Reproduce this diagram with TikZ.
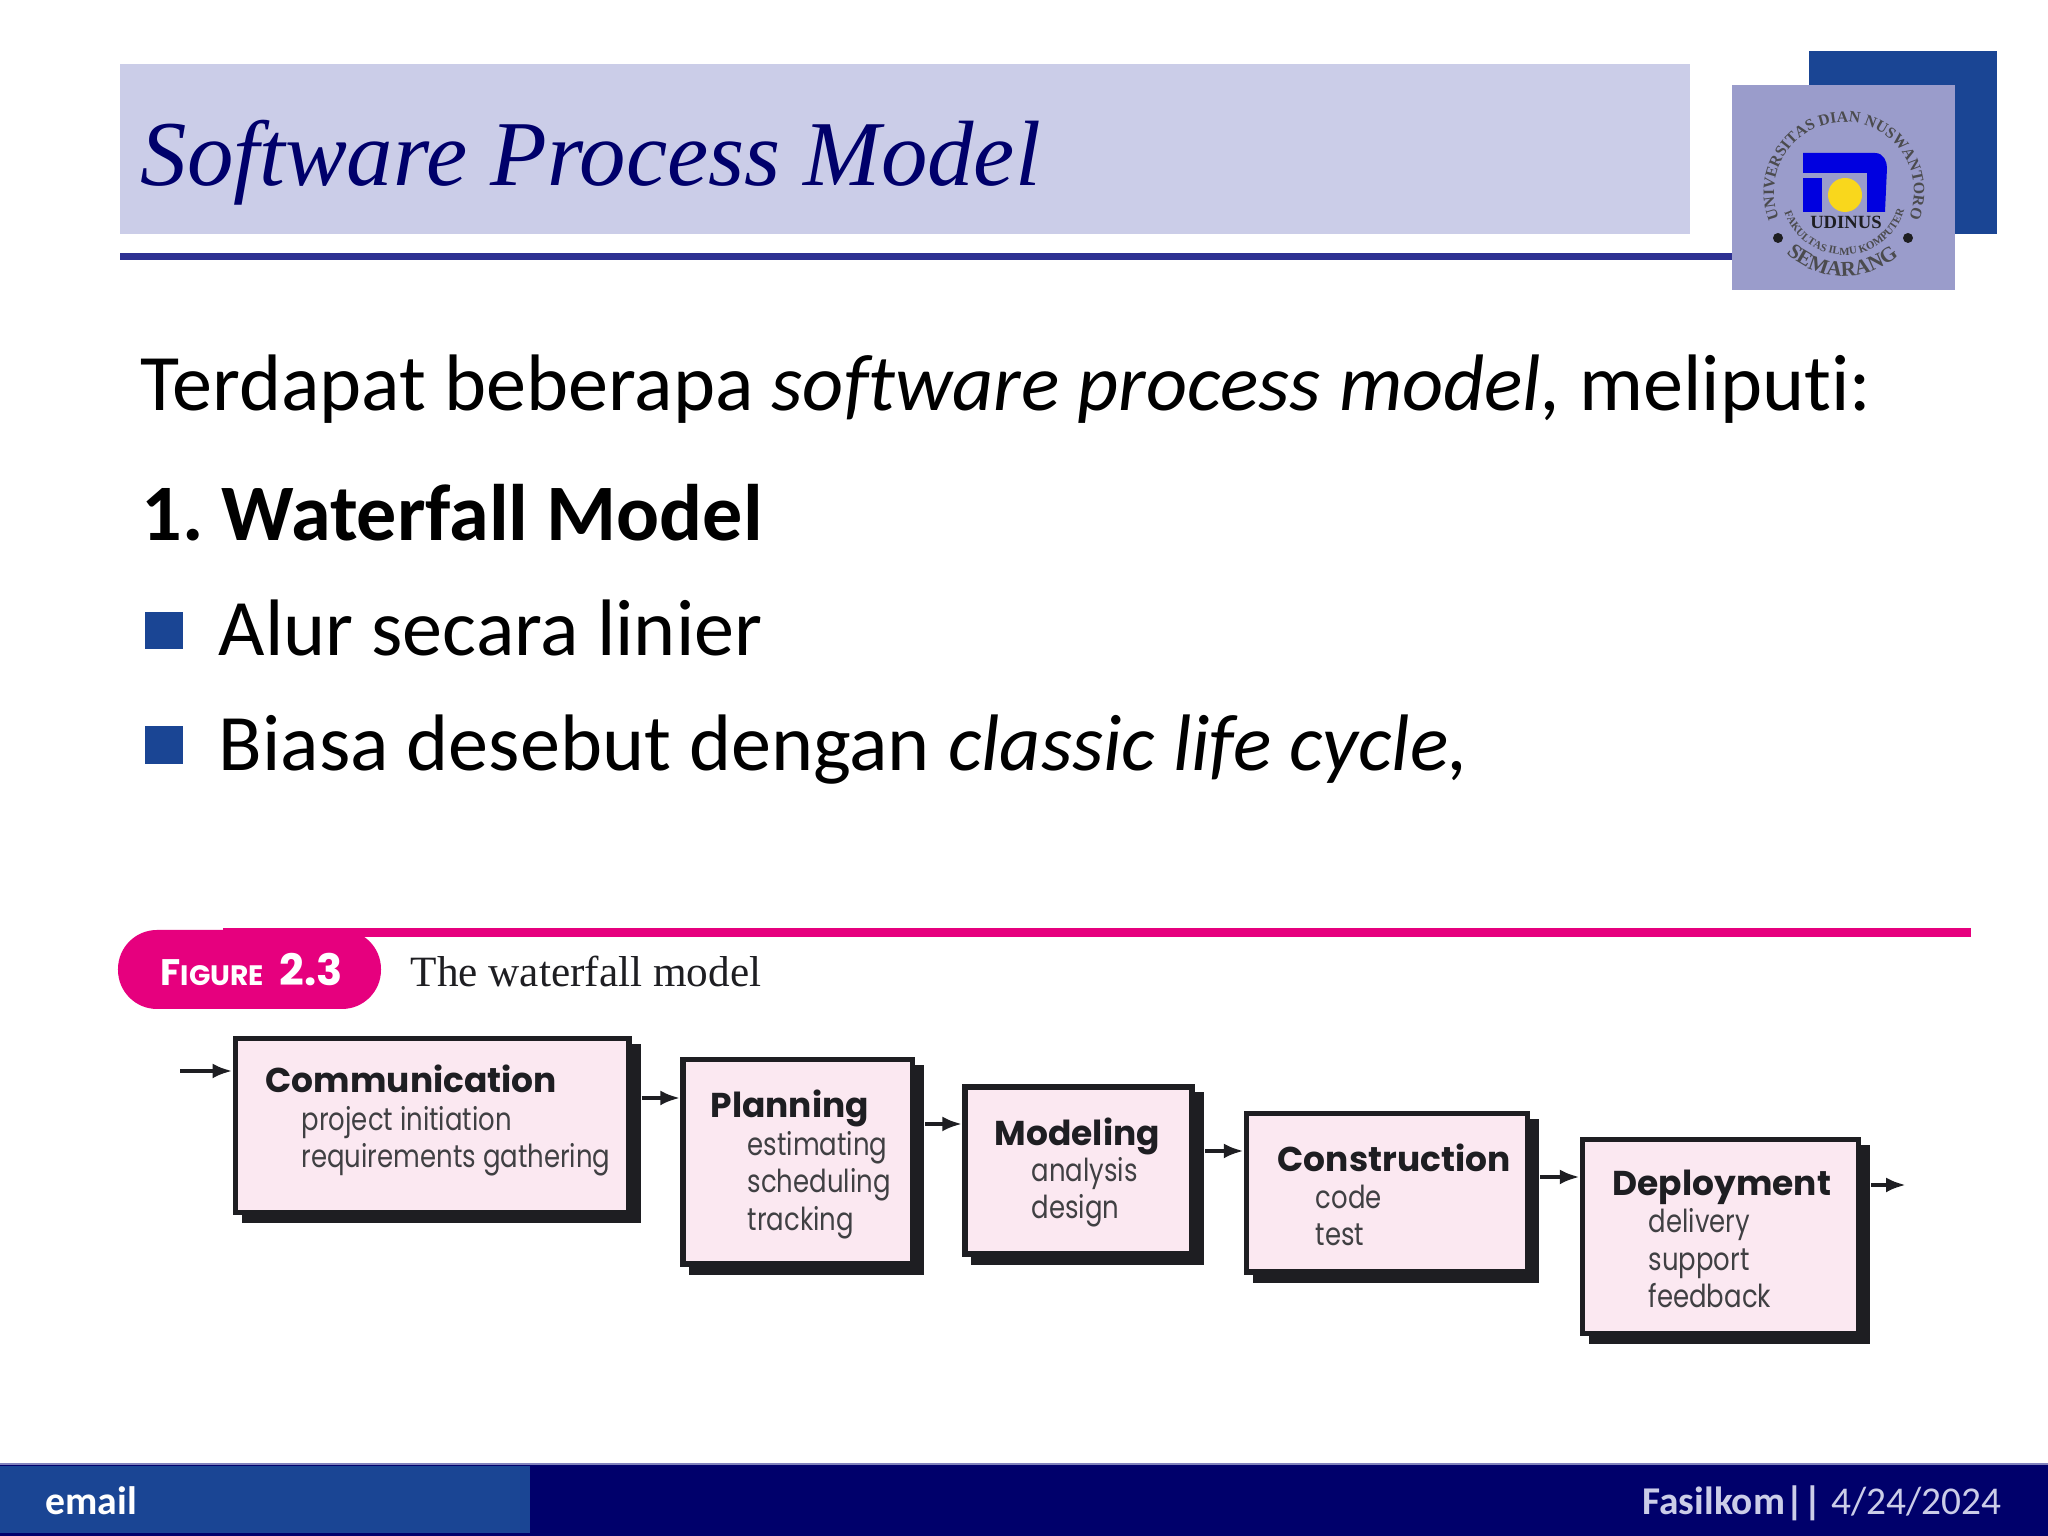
\documentclass[tikz,border=0pt]{standalone}
\usepackage{fontspec}
\usepackage{tikz}
\usetikzlibrary{calc}
\usetikzlibrary{shadows}
\usetikzlibrary{arrows.meta}
\usetikzlibrary{decorations.text}
\setmainfont[Ligatures=NoCommon]{Carlito}
\newfontfamily\titlefont{Liberation Serif}
\newfontfamily\figfont{Poppins}
\newfontfamily\itemfont[FakeStretch=0.82]{Poppins}
\definecolor{bandcol}{HTML}{CBCDE8}
\definecolor{rulecol}{HTML}{2E3192}
\definecolor{squarecol}{HTML}{1A4594}
\definecolor{logocol}{HTML}{9A9CCB}
\definecolor{archcol}{HTML}{0000E0}
\definecolor{suncol}{HTML}{F9D71C}
\definecolor{navycol}{HTML}{00006B}
\definecolor{pinkcol}{HTML}{E6007E}
\definecolor{stagecol}{HTML}{FBE8F1}
\definecolor{inkcol}{HTML}{1E1E22}
\tikzset{
    stagebox/.style={rectangle, draw=inkcol, fill=stagecol, line width=0.055cm, inner sep=0pt,
        copy shadow={shadow xshift=0.09cm, shadow yshift=-0.08cm, draw=inkcol, fill=inkcol}},
    basetext/.style={anchor=base west, inner sep=0pt, yshift=-0.025cm},
    stagehead/.style={basetext, font=\figfont\bfseries\fontsize{9.8}{9.8}\selectfont, color=inkcol},
    stageitem/.style={basetext, font=\itemfont\fontsize{9}{9}\selectfont, color=inkcol!85!white},
    flow/.style={-{Latex[length=0.2cm,width=0.15cm]}, line width=0.04cm, color=inkcol},
    bodytext/.style={basetext, font=\fontsize{22.8}{22.8}\selectfont, color=black},
    bodyhead/.style={bodytext, font=\bfseries\fontsize{22.8}{22.8}\selectfont},
    bullet/.style={color=squarecol}
}
\begin{document}
\begin{tikzpicture}
    \useasboundingbox (0,0) rectangle (20.48,15.36);
    \fill[color=white] (0,0) rectangle (20.48,15.36);
    \fill[color=bandcol] (1.20,13.02) rectangle (16.90,14.72);
    \fill[color=rulecol] (1.20,12.76) rectangle (17.40,12.83);
    \node[basetext, color=navycol] (title) at (1.40,13.53) {\titlefont\itshape\fontsize{26.4}{26.4}\selectfont Software Process Model};
    \fill[color=squarecol] (18.09,13.02) rectangle (19.97,14.85);
    \fill[color=logocol] (17.32,12.46) rectangle (19.55,14.51);
    \fill[color=archcol] (18.03,13.63) -- (18.03,13.83) -- (18.75,13.83) .. controls (18.84,13.83) and (18.87,13.74) .. (18.87,13.68) -- (18.85,13.24) -- (18.67,13.24) -- (18.67,13.63) -- cycle;
    \fill[color=archcol] (18.03,13.24) rectangle (18.22,13.58);
    \fill[color=suncol] (18.45,13.41) circle [radius=0.17];
    \node[color=inkcol, font=\titlefont\bfseries\fontsize{5.3}{5.3}\selectfont, inner sep=0pt] (udinus) at (18.46,13.14) {UDINUS};
    \path[postaction={decorate, decoration={text along path, text align=center, text color=inkcol!80!white,
        text={|\titlefont\bfseries\fontsize{4.5}{4.5}\selectfont|UNIVERSITAS DIAN NUSWANTORO}}}]
        (18.44,13.44) ++(205:0.70) arc [start angle=205, end angle=-25, radius=0.70];
    \path[postaction={decorate, decoration={text along path, text align=center, text color=inkcol!80!white,
        text={|\titlefont\bfseries\fontsize{6}{6}\selectfont|SEMARANG}}}]
        (18.44,13.44) ++(226:0.84) arc [start angle=226, end angle=311, radius=0.84];
    \path[postaction={decorate, decoration={text along path, text align=center, text color=inkcol!80!white,
        text={|\titlefont\bfseries\fontsize{3.1}{3.1}\selectfont|FAKULTAS ILMU KOMPUTER}}}]
        (18.44,13.44) ++(200:0.63) arc [start angle=200, end angle=342, radius=0.63];
    \fill[color=inkcol] (17.78,12.98) circle [radius=0.05];
    \fill[color=inkcol] (19.08,12.98) circle [radius=0.05];
    \node[bodytext] (intro) at (1.40,11.28) {Terdapat beberapa \textit{software process model,} meliputi:};
    \node[bodyhead] (waterfall) at (1.41,9.98) {1.\kern-0.08em{} Waterfall Model};
    \fill[bullet] (1.45,8.87) rectangle (1.83,9.24);
    \node[bodytext] (linier) at (2.18,8.83) {Alur secara linier};
    \fill[bullet] (1.45,7.72) rectangle (1.83,8.10);
    \node[bodytext] (classic) at (2.18,7.68) {Biasa desebut dengan \textit{classic life cycle,}};
    \fill[color=pinkcol] (2.23,5.99) rectangle (19.71,6.08);
    \fill[color=pinkcol, rounded corners=0.39cm] (1.18,5.27) rectangle (3.81,6.06);
    \node[basetext, color=white] (figtag) at (1.60,5.53) {\figfont\bfseries\fontsize{10.5}{10.5}\selectfont F\fontsize{8}{8}\selectfont IGURE\hspace{0.16cm}\fontsize{12.3}{12.3}\selectfont 2.3};
    \node[basetext, color=inkcol] (figcap) at (4.10,5.52) {\titlefont\fontsize{12.3}{12.3}\selectfont The waterfall model};
    \foreach \name/\cx/\cy/\w/\h in {comm/4.32/4.105/3.935/1.74, plan/7.9775/3.74/2.295/2.045, model/10.785/3.655/2.27/1.67, constr/13.87/3.43/2.81/1.585, deploy/17.205/2.995/2.76/1.94}
        \node[stagebox, minimum width=\w cm, minimum height=\h cm] (\name) at (\cx,\cy) {};
    \coordinate (start) at (1.80,4.65);
    \coordinate (finish) at (19.06,3.51);
    \draw[flow] (start) -- (start -| comm.west);
    \draw[flow] ([shift={(0.10,0.275)}]comm.east) -- ([yshift=0.275cm]comm.east -| plan.west);
    \draw[flow] ([shift={(0.10,0.38)}]plan.east) -- ([yshift=0.38cm]plan.east -| model.west);
    \draw[flow] ([shift={(0.10,0.195)}]model.east) -- ([yshift=0.195cm]model.east -| constr.west);
    \draw[flow] ([shift={(0.10,0.16)}]constr.east) -- ([yshift=0.16cm]constr.east -| deploy.west);
    \draw[flow] ([xshift=0.10cm]finish -| deploy.east) -- (finish);
    \node[stagehead] (commhead) at (2.65,4.46) {Communication};
    \node[stageitem] (commone) at (3.01,4.08) {project initiation};
    \node[stageitem] (commtwo) at (3.01,3.71) {requirements gathering};
    \node[stagehead] (planhead) at (7.10,4.21) {Planning};
    \node[stageitem] (planone) at (7.47,3.83) {estimating};
    \node[stageitem] (plantwo) at (7.47,3.46) {scheduling};
    \node[stageitem] (planthree) at (7.47,3.08) {tracking};
    \node[stagehead] (modelhead) at (9.94,3.93) {Modeling};
    \node[stageitem] (modelone) at (10.31,3.57) {analysis};
    \node[stageitem] (modeltwo) at (10.31,3.20) {design};
    \node[stagehead] (constrhead) at (12.77,3.67) {Construction};
    \node[stageitem] (constrone) at (13.15,3.30) {code};
    \node[stageitem] (constrtwo) at (13.15,2.93) {test};
    \node[stagehead] (deployhead) at (16.12,3.43) {Deployment};
    \node[stageitem] (deployone) at (16.48,3.06) {delivery};
    \node[stageitem] (deploytwo) at (16.48,2.68) {support};
    \node[stageitem] (deploythree) at (16.48,2.31) {feedback};
    \fill[color=navycol] (0,0) rectangle (20.48,0.72);
    \draw[line width=0.02cm, color=rulecol!60!white] (0,0.72) -- (20.48,0.72);
    \fill[color=squarecol] (0,0.03) rectangle (5.30,0.70);
    \node[basetext, color=white] (email) at (0.45,0.24) {\bfseries\fontsize{11.3}{11.3}\selectfont email};
    \node[basetext, anchor=base east, color=bandcol] (footer) at (20.02,0.24) {\fontsize{11.2}{11.2}\selectfont\textbf{Fasilkom||} 4/24/2024};
\end{tikzpicture}
\end{document}
